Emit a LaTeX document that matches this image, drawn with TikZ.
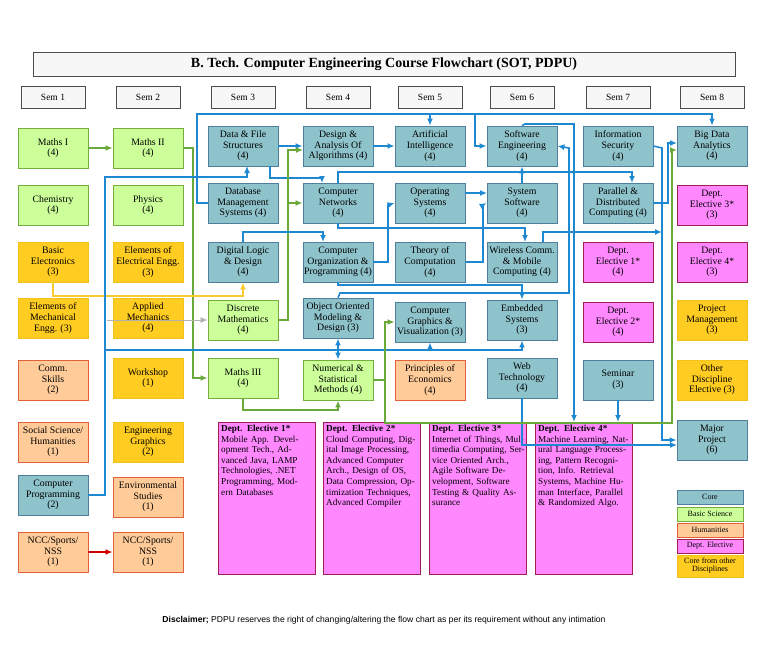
\documentclass[tikz,border=0pt]{standalone}
\usepackage{fontspec}
\setmainfont{Liberation Serif}
\newfontfamily\dsans{Liberation Sans}
\usetikzlibrary{arrows.meta}
\definecolor{tealf}{HTML}{8FC3CB}\definecolor{tealb}{HTML}{4F7F9C}
\definecolor{grnf}{HTML}{CCFF99}\definecolor{grnb}{HTML}{76AE3E}
\definecolor{gldf}{HTML}{FFCC22}\definecolor{gldb}{HTML}{F2C21B}
\definecolor{pchf}{HTML}{FFCC99}\definecolor{pchb}{HTML}{E2613A}
\definecolor{pnkf}{HTML}{FF88FF}\definecolor{pnkb}{HTML}{9E2050}
\definecolor{bl}{HTML}{1E88D0}\definecolor{gl}{HTML}{6AA83A}
\definecolor{yl}{HTML}{F8CC30}
\tikzset{
 bx/.style={minimum width=70pt,minimum height=40pt,inner sep=0pt,align=center,font=\fontsize{9.8}{10.6}\selectfont,line width=0.9pt},
 core/.style={bx,fill=tealf,draw=tealb},
 basic/.style={bx,fill=grnf,draw=grnb},
 hum/.style={bx,fill=pchf,draw=pchb},
 del/.style={bx,fill=pnkf,draw=pnkb},
 oth/.style={bx,fill=gldf,draw=gldb},
 sem/.style={draw=black!70,fill=black!3,minimum width=64pt,minimum height=22pt,font=\fontsize{9.5}{10}\selectfont},
 ebox/.style={fill=pnkf,draw=pnkb,line width=0.9pt,minimum height=152pt,minimum width=97pt,anchor=north west,inner sep=0pt},
 etxt/.style={text width=93pt,align=left,anchor=north west,inner sep=0pt,font=\fontsize{9.2}{10.6}\selectfont},
 lg/.style={minimum width=66pt,minimum height=14pt,inner sep=0pt,font=\fontsize{8}{8}\selectfont,line width=0.6pt,align=center},
 ab/.style={draw=bl,line width=1.6pt,-{Latex[length=7pt,width=6pt]},color=bl},
 ag/.style={draw=gl,line width=1.6pt,-{Latex[length=7pt,width=6pt]},color=gl},
 ln/.style={line width=1.6pt},
}
\begin{document}
\begin{tikzpicture}[x=1pt,y=-1pt]
\useasboundingbox (0,0) rectangle (768,657);
\node[draw=black!70,fill=black!3,minimum width=702pt,minimum height=24pt,font=\fontsize{14}{14}\selectfont\bfseries] (title) at (384,64) {B. Tech. Computer Engineering Course Flowchart (SOT, PDPU)};
\foreach \i/\x in {1/53,2/148,3/243,4/338,5/430,6/522,7/618,8/712}{\node[sem] (s\i) at (\x,97) {Sem \i};}
% Sem1
\node[basic] (m1) at (53,148) {Maths I\\(4)};
\node[basic] (ch) at (53,205) {Chemistry\\(4)};
\node[oth] (be) at (53,262) {Basic\\Electronics\\(3)};
\node[oth] (em) at (53,318) {Elements of\\Mechanical\\Engg. (3)};
\node[hum] (cs) at (53,380) {Comm.\\Skills\\(2)};
\node[hum] (ss) at (53,442) {Social Science/\\Humanities\\(1)};
\node[core] (cp) at (53,495) {Computer\\Programming\\(2)};
\node[hum] (n1) at (53,552) {NCC/Sports/\\NSS\\(1)};
% Sem2
\node[basic] (m2) at (148,148) {Maths II\\(4)};
\node[basic] (ph) at (148,205) {Physics\\(4)};
\node[oth] (ee) at (148,262) {Elements of\\Electrical Engg.\\(3)};
\node[oth] (am) at (148,318) {Applied\\Mechanics\\(4)};
\node[oth] (ws) at (148,378) {Workshop\\(1)};
\node[oth] (eg) at (148,442) {Engineering\\Graphics\\(2)};
\node[hum] (es) at (148,497) {Environmental\\Studies\\(1)};
\node[hum] (n2) at (148,552) {NCC/Sports/\\NSS\\(1)};
% Sem3
\node[core] (dfs) at (243,146) {Data \& File\\Structures\\(4)};
\node[core] (db) at (243,203) {Database\\Management\\Systems (4)};
\node[core] (dl) at (243,262) {Digital Logic\\\& Design\\(4)};
\node[basic] (dm) at (243,320) {Discrete\\Mathematics\\(4)};
\node[basic] (m3) at (243,378) {Maths III\\(4)};
% Sem4
\node[core] (daa) at (338,146) {Design \&\\Analysis Of\\Algorithms (4)};
\node[core] (cn) at (338,203) {Computer\\Networks\\(4)};
\node[core] (cop) at (338,262) {Computer\\Organization \&\\Programming (4)};
\node[core] (oo) at (338,318) {Object Oriented\\Modeling \&\\Design (3)};
\node[basic] (nm) at (338,380) {Numerical \&\\Statistical\\Methods (4)};
% Sem5
\node[core] (ai) at (430,146) {Artificial\\Intelligence\\(4)};
\node[core] (os) at (430,203) {Operating\\Systems\\(4)};
\node[core] (toc) at (430,262) {Theory of\\Computation\\(4)};
\node[core] (cg) at (430,322) {Computer\\Graphics \&\\Visualization (3)};
\node[hum] (pe) at (430,380) {Principles of\\Economics\\(4)};
% Sem6
\node[core] (se) at (522,146) {Software\\Engineering\\(4)};
\node[core] (sys) at (522,203) {System\\Software\\(4)};
\node[core] (wc) at (522,262) {Wireless Comm.\\\& Mobile\\Computing (4)};
\node[core] (emb) at (522,320) {Embedded\\Systems\\(3)};
\node[core] (wt) at (522,378) {Web\\Technology\\(4)};
% Sem7
\node[core] (is) at (618,146) {Information\\Security\\(4)};
\node[core] (pdc) at (618,203) {Parallel \&\\Distributed\\Computing (4)};
\node[del] (d1) at (618,262) {Dept.\\Elective 1*\\(4)};
\node[del] (d2) at (618,322) {Dept.\\Elective 2*\\(4)};
\node[core] (sem) at (618,380) {Seminar\\(3)};
% Sem8
\node[core] (bd) at (712,146) {Big Data\\Analytics\\(4)};
\node[del] (d3) at (712,205) {Dept.\\Elective 3*\\(3)};
\node[del] (d4) at (712,262) {Dept.\\Elective 4*\\(3)};
\node[oth] (pm) at (712,320) {Project\\Management\\(3)};
\node[oth] (od) at (712,380) {Other\\Discipline\\Elective (3)};
\node[core] (mp) at (712,440) {Major\\Project\\(6)};
% electives
\node[ebox] (e1) at (218,422) {};
\node[ebox] (e2) at (323,422) {};
\node[ebox] (e3) at (429,422) {};
\node[ebox] (e4) at (535,422) {};
\node[etxt] (t1) at (221,425) {\textbf{Dept. Elective 1*}\\Mobile App. Development Tech., Advanced Java, LAMP Technologies, .NET Programming, Modern Databases};
\node[etxt] (t2) at (326,425) {\textbf{Dept. Elective 2*}\\Cloud Computing, Digital Image Processing, Advanced Computer Arch., Design of OS, Data Compression, Optimization Techniques, Advanced Compiler};
\node[etxt] (t3) at (432,425) {\textbf{Dept. Elective 3*}\\Internet of Things, Multimedia Computing, Service Oriented Arch., Agile Software Development, Software Testing \& Quality Assurance};
\node[etxt] (t4) at (538,425) {\textbf{Dept. Elective 4*}\\Machine Learning, Natural Language Processing, Pattern Recognition, Info. Retrieval Systems, Machine Human Interface, Parallel \& Randomized Algo.};
% legend
\node[lg,fill=tealf,draw=tealb] (l1) at (710,497) {Core};
\node[lg,fill=grnf,draw=grnb] (l2) at (710,514) {Basic Science};
\node[lg,fill=pchf,draw=pchb] (l3) at (710,530) {Humanities};
\node[lg,fill=pnkf,draw=pnkb] (l4) at (710,546) {Dept. Elective};
\node[lg,fill=gldf,draw=gldb,minimum height=22pt] (l5) at (710,566) {Core from other\\Disciplines};
\node[font=\dsans\fontsize{8.6}{9}\selectfont] (disc) at (384,620) {\textbf{Disclaimer;} PDPU reserves the right of changing/altering the flow chart as per its requirement without any intimation};
% connectors
\draw[ag] (m1) -- (m2);
\draw[ag] (m2.east) -- (193,148) -- (193,378) -- (m3.west);
\draw[draw=red!80!black,line width=1.6pt,-{Latex[length=7pt,width=6pt]},color=red!80!black] (n1) -- (n2);
\draw[draw=yl,ln,-{Latex[length=7pt,width=6pt]}] (be.south) -- (53,296) -- (243,296) -- (dl.south);
\draw[draw=black!30,line width=0.8pt,-{Latex[length=7pt,width=6pt]}] (107,320) -- (dm.west);
\draw[ab] (cp.east) -- (105,495) -- (105,177) -- (247,177) -- (247,166);
\draw[ab] (105,350) -- (522,350) -- (emb.south);
\draw[ab] (430,350) -- (cg.south);
\draw[ab] (db.west) -- (197,203) -- (197,114) -- (712,114) -- (bd.north);
\draw[ab] (430,114) -- (ai.north);
\draw[ab] (475,114) -- (475,146) -- (se.west);
\draw[ab] (dfs) -- (daa);
\draw[ab] (270,166) -- (270,178) -- (322,178) -- (322,183);
\draw[ag] (dm.east) -- (288,320) -- (288,150) -- (303,150);
\draw[ag] (288,203) -- (cn.west);
\draw[ab] (daa) -- (ai);
\draw[ab] (338,183) -- (338,172) -- (632,172) -- (632,183);
\draw[ab] (338,223) -- (338,228) -- (525,228) -- (525,242);
\draw[ab] (465,193) -- (487,193);
\draw[ab] (cop.east) -- (388,262) -- (388,205) -- (os.west);
\draw[ab] (toc.east) -- (483,262) -- (483,205) -- (sys.west);
\draw[ab] (sys) -- (se);
\draw[ab] (338,282) -- (338,285) -- (522,285) -- (emb.north);
\draw[ab] (oo.north) -- (340,293) -- (569,293) -- (569,148) -- (se.east);
\draw[ab] (543,242) -- (543,232) -- (662,232);
\draw[ab] (is.east) -- (662,148) -- (662,440) -- (mp.west);
\draw[ab] (se.north) -- (525,124) -- (574,124) -- (574,422);
\draw[ab] (sem.south) -- (618,422);
\draw[ab] (wt.south) -- (522,445) -- (677,445);
\draw[ab] (pdc.east) -- (668,203) -- (668,143) -- (677,143);
\draw[ag] (nm.east) -- (385,380) -- (385,322) -- (cg.west);
\draw[ag] (385,380) -- (385,423) -- (672,423) -- (672,150) -- (677,150);
\draw[ag] (m3.south) -- (243,410) -- (338,410) -- (nm.south);
\draw[draw=bl,line width=1.6pt,{Latex[length=7pt,width=6pt]}-{Latex[length=7pt,width=6pt]}] (oo.south) -- (nm.north);
\draw[ab] (dl.north) -- (243,232) -- (323,232) -- (323,242);
\end{tikzpicture}
\end{document}
